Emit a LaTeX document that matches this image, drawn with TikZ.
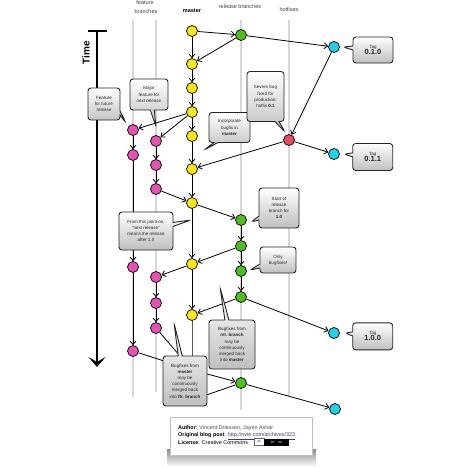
\documentclass[tikz,border=0pt]{standalone}
\usepackage{fontspec}
\setmainfont{Liberation Sans}
\usetikzlibrary{arrows.meta,shapes.callouts,shadings}
\definecolor{yellowc}{RGB}{250,230,20}
\definecolor{pinkc}{RGB}{232,80,180}
\definecolor{greenc}{RGB}{80,190,30}
\definecolor{redc}{RGB}{235,75,95}
\definecolor{cyanc}{RGB}{30,210,235}
\definecolor{lanegray}{RGB}{215,215,215}
\definecolor{urlc}{RGB}{60,60,120}
\pgfdeclarelayer{bg}
\pgfsetlayers{bg,main}
\begin{document}
\begin{tikzpicture}[x=1pt,y=-1pt,
  commit/.style={circle,draw=black,line width=0.7pt,minimum size=11pt,inner sep=0pt},
  mst/.style={commit,fill=yellowc},
  rel/.style={commit,fill=greenc},
  hot/.style={commit,fill=redc},
  tagc/.style={commit,fill=cyanc},
  feat/.style={commit,fill=pinkc},
  arr/.style={draw=black,line width=0.8pt,-{Straight Barb[length=3.5pt,width=6pt]}},
  plain/.style={draw=black,line width=0.8pt},
  lane/.style={draw=lanegray,line width=1.6pt},
  bubble/.style={rectangle callout,rounded corners=3pt,draw=black!85,line width=0.9pt,
    top color=white,bottom color=black!25,align=center,inner sep=1pt,text=black!85,
    font=\fontsize{4.5}{6.2}\selectfont,callout pointer width=4pt},
  head/.style={font=\fontsize{5.5}{6}\selectfont,text=black!75,inner sep=0pt},
]
\useasboundingbox (0,0) rectangle (474,467);

% headers
\node[head] (hfa) at (145,3) {feature};
\node[head] (hfb) at (146,12) {branches};
\node[head,font=\bfseries\fontsize{5.5}{6}\selectfont,text=black] (hm) at (192,11) {master};
\node[head] (hr) at (240,7) {release branches};
\node[head] (hh) at (289,10) {hotfixes};
\node[rotate=90,font=\bfseries\fontsize{10}{10}\selectfont] (time) at (86,53) {Time};

% commits
\node[mst] (m1) at (192,31) {};
\node[mst] (m2) at (192,64) {};
\node[mst] (m3) at (192,88) {};
\node[mst] (m4) at (192,112) {};
\node[mst] (m5) at (192,136) {};
\node[mst] (m6) at (192,169) {};
\node[mst] (m7) at (192,203) {};
\node[mst] (m8) at (192,264) {};
\node[mst] (m9) at (192,315) {};
\coordinate (m10) at (192,370);
\coordinate (m11) at (192,400);
\node[rel] (r1) at (241,35) {};
\node[rel] (r2) at (241,220) {};
\node[rel] (r3) at (241,246) {};
\node[rel] (r4) at (241,271) {};
\node[rel] (r5) at (241,297) {};
\node[rel] (r6) at (241,383) {};
\node[hot] (h1) at (289,140) {};
\node[tagc] (t1) at (334,47) {};
\node[tagc] (t2) at (334,154) {};
\node[tagc] (t3) at (334,333) {};
\node[tagc] (t4) at (335,409) {};
\node[feat] (fa1) at (133,130) {};
\node[feat] (fa2) at (133,155) {};
\node[feat] (fa3) at (133,267) {};
\node[feat] (fa4) at (133,351) {};
\node[feat] (fb1) at (156,141) {};
\node[feat] (fb2) at (156,165) {};
\node[feat] (fb3) at (156,189) {};
\node[feat] (fb4) at (156,277) {};
\node[feat] (fb5) at (156,303) {};
\node[feat] (fb6) at (156,328) {};

\coordinate (laT) at (133,20); \coordinate (laB) at (133,397);
\coordinate (lbT) at (156,20); \coordinate (lbB) at (156,392);
\coordinate (lrT) at (241,20); \coordinate (lrB) at (241,410);
\coordinate (lhT) at (289,20); \coordinate (lhB) at (289,396);
\coordinate (tT) at (97,31); \coordinate (tB) at (97,367);
\coordinate (tkL) at (88,31); \coordinate (tkR) at (107,31);

\begin{pgfonlayer}{bg}
\draw[lane] (laT) -- (laB);
\draw[lane] (lbT) -- (lbB);
\draw[lane] (lrT) -- (lrB);
\draw[lane] (lhT) -- (lhB);
\draw[line width=2pt,-{Stealth[length=10pt,width=17pt,inset=5pt]}] (tT) -- (tB);
\draw[line width=2.6pt] (tkL) -- (tkR);
% master
\draw[arr] (m1) -- (m2);
\draw[arr] (m2) -- (m3);
\draw[arr] (m3) -- (m4);
\draw[arr] (m4) -- (m5);
\draw[arr] (m5) -- (m6);
\draw[arr] (m6) -- (m7);
\draw[arr] (m7) -- (m8);
\draw[arr] (m8) -- (m9);
\draw[plain] (m9) -- (m10) -- (m11);
% release / tags
\draw[arr] (m1) -- (r1);
\draw[arr] (r1) -- (t1);
\draw[arr] (r1) -- (m2);
\draw[arr] (t1) -- (h1);
\draw[arr] (h1) -- (t2);
\draw[arr] (h1) -- (m6);
\draw[arr] (m7) -- (r2);
\draw[arr] (r2) -- (r3);
\draw[arr] (r3) -- (r4);
\draw[arr] (r4) -- (r5);
\draw[arr] (r3) -- (m8);
\draw[arr] (r5) -- (m9);
\draw[arr] (r5) -- (t3);
\draw[arr] (m10) -- (r6);
\draw[plain] (r6) -- (m11);
\draw[arr] (r6) -- (t4);
% features
\draw[arr] (m4) -- (fa1);
\draw[arr] (m4) -- (fb1);
\draw[arr] (fa1) -- (fa2);
\draw[arr] (fa2) -- (fa3);
\draw[arr] (fa3) -- (fa4);
\draw[arr] (fb1) -- (fb2);
\draw[arr] (fb2) -- (fb3);
\draw[arr] (fb3) -- (m7);
\draw[arr] (m8) -- (fb4);
\draw[arr] (fb4) -- (fb5);
\draw[arr] (fb5) -- (fb6);
\draw[plain] (fb6) -- (m10);
\draw[plain] (fa4) -- (m10);
\end{pgfonlayer}

% callouts
\node[bubble,minimum width=32pt,minimum height=32pt,callout absolute pointer={(126,123)}] (b1) at (104,104) {Feature\\for future\\release};
\node[bubble,minimum width=38pt,minimum height=31pt,callout absolute pointer={(156,127)}] (b2) at (149,94.5) {Major\\feature for\\next release};
\node[bubble,minimum width=41pt,minimum height=30pt,callout absolute pointer={(204,150)}] (b3) at (229.5,127.5) {Incorporate\\bugfix in\\\textbf{master}};
\node[bubble,minimum width=37pt,minimum height=50pt,callout absolute pointer={(285,132)}] (b4) at (265.5,96.5) {Severe bug\\fixed for\\production:\\hotfix \textbf{0.1}};
\node[bubble,minimum width=40pt,minimum height=26pt,callout absolute pointer={(343,47)}] (b5) at (373,50) {Tag\\[-0.5pt]{\bfseries\fontsize{7.5}{7.5}\selectfont 0.1.0}};
\node[bubble,minimum width=40pt,minimum height=27pt,callout absolute pointer={(344,154)}] (b6) at (372.7,157) {Tag\\[-0.5pt]{\bfseries\fontsize{7.5}{7.5}\selectfont 0.1.1}};
\node[bubble,minimum width=54pt,minimum height=38pt,callout absolute pointer={(191,220)}] (b7) at (146,231) {From this point on,\\``next release''\\means the release\\after 1.0};
\node[bubble,minimum width=40pt,minimum height=40pt,callout absolute pointer={(251,222)}] (b8) at (279,208) {Start of\\release\\branch for\\\textbf{1.0}};
\node[bubble,minimum width=36pt,minimum height=26pt,callout absolute pointer={(250,270)}] (b9) at (278,260) {Only\\bugfixes!};
\node[bubble,minimum width=40pt,minimum height=27pt,callout absolute pointer={(345,333)}] (b12) at (372.7,336.3) {Tag\\[-0.5pt]{\bfseries\fontsize{7.5}{7.5}\selectfont 1.0.0}};
\node[bubble,minimum width=46pt,minimum height=49pt,callout absolute pointer={(220,287)}] (b10) at (232,344.5) {Bugfixes from\\\textbf{rel. branch}\\may be\\continuously\\merged back\\into \textbf{master}};
\node[bubble,minimum width=44pt,minimum height=50pt,callout absolute pointer={(174,323)}] (b11) at (185,381) {Bugfixes from\\\textbf{master}\\may be\\continuously\\merged back\\into \textbf{ftr. branch}};

% credits
\shade[top color=black!45,bottom color=white] (167,449) rectangle (316,467);
\node[draw=black!25,fill=white,minimum width=142pt,minimum height=38pt,inner sep=0pt] (cred) at (241,436) {};
\node[anchor=west,align=left,inner sep=0pt,font=\fontsize{5.4}{7}\selectfont] (ctext) at (178,435) {\textbf{Author}: {\color{black!70}Vincent Driessen, Jayen Ashar}\\\textbf{Original blog post}: {\color{urlc}\underline{http://nvie.com/archives/323}}\\\textbf{License}: Creative Commons};
\node[draw=black!60,fill=white,minimum width=10pt,minimum height=7pt,inner sep=0pt,font=\fontsize{3.5}{4}\selectfont] (cc1) at (259,442) {cc};
\node[fill=black,text=white,minimum width=25pt,minimum height=7pt,inner sep=0pt,font=\fontsize{3}{4}\selectfont] (cc2) at (276.5,442) {BY\quad SA};
\end{tikzpicture}
\end{document}
